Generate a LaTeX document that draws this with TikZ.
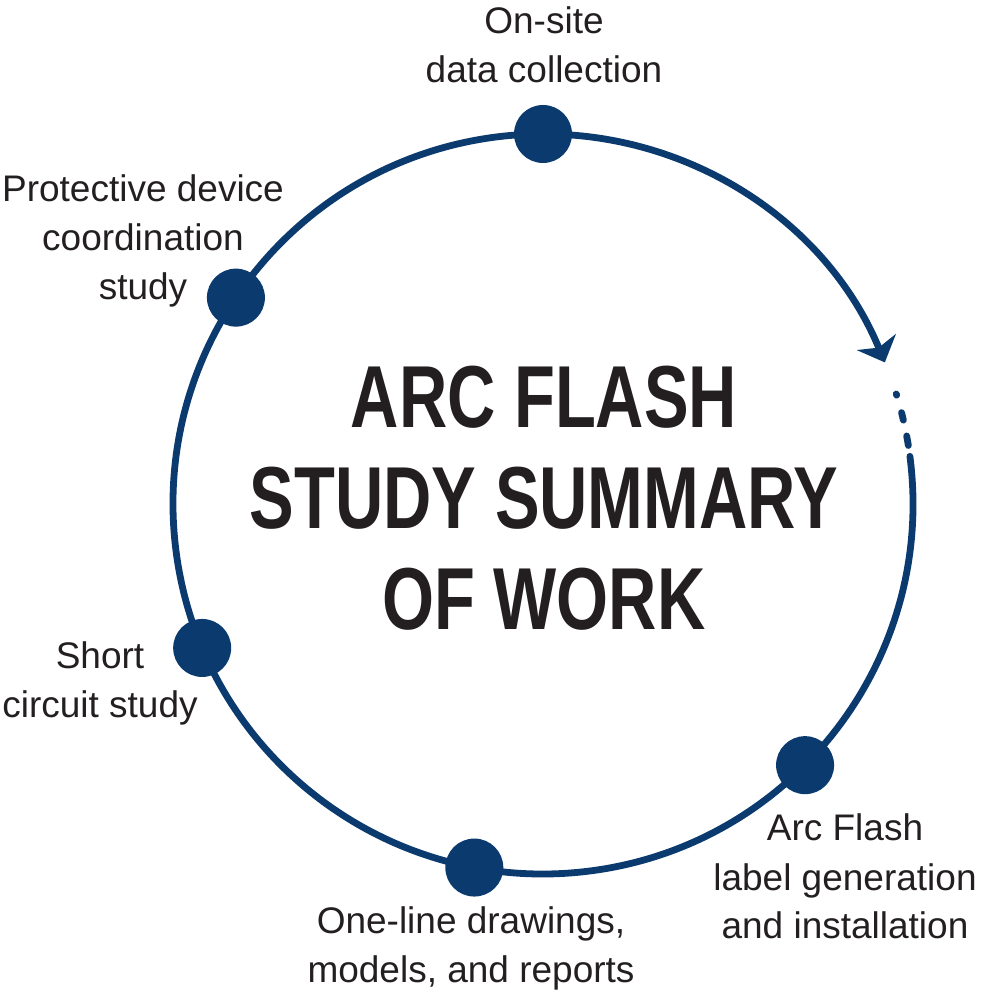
\documentclass[tikz,border=0pt]{standalone}
\usepackage{fontspec}
\setmainfont{Liberation Sans}
\newfontfamily\titlefont{Liberation Sans}[FakeStretch=0.76]
\usepackage{tikz}
\usetikzlibrary{calc}
\usetikzlibrary{arrows.meta}
\definecolor{navy}{HTML}{0B3A6E}
\definecolor{ink}{HTML}{231F20}
\tikzset{
	stepdot/.style={circle, fill=navy, inner sep=0pt, minimum size=29pt},
	steplabel/.style={anchor=base, align=center, text=ink, font=\fontsize{18.5}{24.5}\selectfont},
	ring/.style={navy, line width=3.4pt, line cap=round}
}

\begin{document}
\begin{tikzpicture}[x=0.5pt,y=0.5pt]
	\useasboundingbox (0,0) rectangle (980,1000);
	\coordinate (C) at (543,496);
	\draw [ring,-{Stealth[length=11pt,width=21pt,inset=3pt]}] (C) ++(7.4:370) arc [start angle=7.4, end angle=-337.5, radius=370];
	\foreach \a/\b in {17.3/17.1, 14.3/13.1, 10.6/9.1}
		\draw [ring] (C) ++(\a:370) arc [start angle=\a, end angle=\b, radius=370];

	\node [stepdot] (dcollect) at ($(C)+(90:370)$) {};
	\node [stepdot] (dcoord) at ($(C)+(146.1:370)$) {};
	\node [stepdot] (dshort) at ($(C)+(202.9:370)$) {};
	\node [stepdot] (ddraw) at ($(C)+(259.3:370)$) {};
	\node [stepdot] (dlabel) at ($(C)+(315.1:370)$) {};

	% base = last line
	\node [steplabel] (lcollect) at (544,917) {On-site\\data collection};
	\node [steplabel] (lcoord) at (143,700) {Protective device\\coordination\\study};
	\node [steplabel] (lshort) at (100,282) {Short\\circuit study};
	\node [steplabel] (ldraw) at (471,18) {One-line drawings,\\models, and reports};
	\node [steplabel] (llabel) at (845,61) {Arc Flash\\label generation\\and installation};
	\node [anchor=base, align=center, text=ink, font=\titlefont\bfseries\fontsize{44}{50.5}\selectfont] (title) at (544,370) {ARC FLASH\\STUDY SUMMARY\\OF WORK};
\end{tikzpicture}
\end{document}
